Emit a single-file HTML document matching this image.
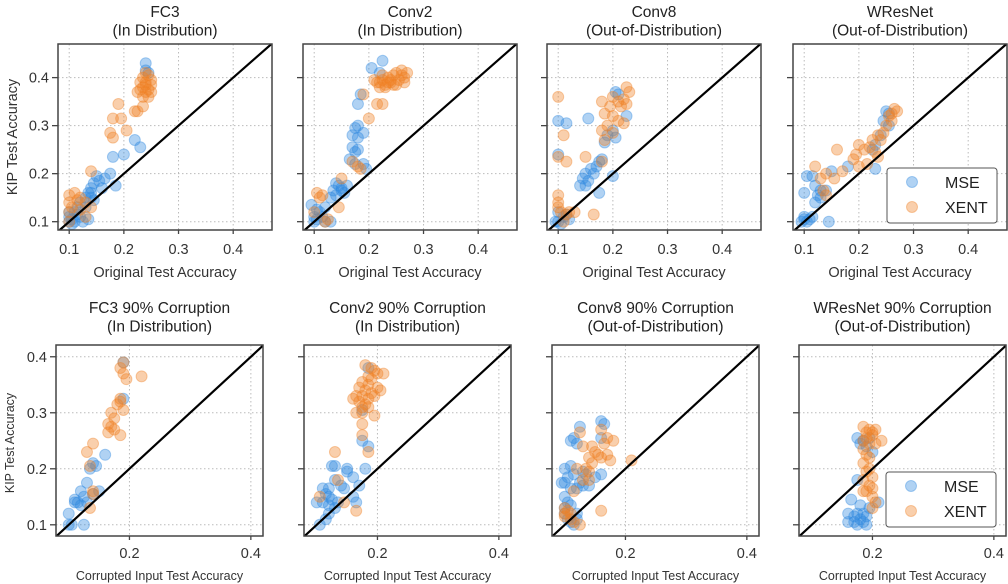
<!DOCTYPE html>
<html><head><meta charset="utf-8">
<style>
html,body{margin:0;padding:0;background:#fff;}
svg{display:block;font-family:"Liberation Sans",sans-serif;}
</style></head>
<body>
<svg id="fig" width="1008" height="584" viewBox="0 0 1008 584" xmlns="http://www.w3.org/2000/svg"></svg>
<script>
const fc3Mse=[[0.24,0.43],[0.245,0.41],[0.24,0.415],[0.22,0.27],[0.23,0.255],[0.2,0.24],[0.18,0.235],[0.175,0.2],[0.165,0.19],[0.15,0.195],[0.155,0.185],[0.185,0.175],[0.14,0.17],[0.135,0.16],[0.13,0.15],[0.14,0.15],[0.145,0.145],[0.12,0.14],[0.11,0.12],[0.1,0.1],[0.105,0.105],[0.11,0.1],[0.12,0.11],[0.135,0.105],[0.125,0.1],[0.1,0.11],[0.115,0.115],[0.13,0.13],[0.14,0.16],[0.145,0.18],[0.16,0.17],[0.105,0.095],[0.1,0.12],[0.115,0.13]];
const fc3Xent=[[0.235,0.4],[0.24,0.41],[0.245,0.405],[0.23,0.39],[0.24,0.39],[0.25,0.385],[0.235,0.38],[0.245,0.375],[0.23,0.375],[0.24,0.37],[0.25,0.37],[0.225,0.37],[0.235,0.36],[0.245,0.36],[0.24,0.385],[0.25,0.395],[0.22,0.33],[0.225,0.33],[0.235,0.34],[0.19,0.345],[0.18,0.315],[0.195,0.315],[0.175,0.285],[0.18,0.275],[0.205,0.29],[0.14,0.205],[0.1,0.155],[0.11,0.16],[0.12,0.15],[0.1,0.14],[0.105,0.13],[0.115,0.145],[0.13,0.14],[0.14,0.13],[0.1,0.12],[0.1,0.1],[0.13,0.11],[0.12,0.125]];
const conv2Mse=[[0.225,0.435],[0.205,0.42],[0.22,0.41],[0.18,0.345],[0.185,0.365],[0.175,0.295],[0.18,0.3],[0.17,0.28],[0.18,0.275],[0.19,0.285],[0.17,0.255],[0.175,0.245],[0.18,0.25],[0.165,0.23],[0.175,0.22],[0.19,0.22],[0.195,0.21],[0.14,0.18],[0.15,0.17],[0.145,0.175],[0.135,0.165],[0.155,0.16],[0.14,0.155],[0.13,0.15],[0.12,0.13],[0.11,0.12],[0.1,0.11],[0.1,0.1],[0.095,0.135],[0.105,0.105],[0.12,0.1],[0.13,0.1],[0.115,0.11],[0.105,0.125],[0.16,0.175],[0.15,0.165]];
const conv2Xent=[[0.22,0.39],[0.225,0.395],[0.23,0.385],[0.235,0.4],[0.215,0.39],[0.24,0.39],[0.23,0.38],[0.22,0.38],[0.245,0.405],[0.25,0.41],[0.26,0.415],[0.265,0.4],[0.255,0.395],[0.265,0.39],[0.27,0.41],[0.25,0.385],[0.24,0.395],[0.225,0.405],[0.21,0.395],[0.235,0.39],[0.245,0.385],[0.26,0.405],[0.215,0.345],[0.225,0.345],[0.19,0.365],[0.2,0.315],[0.17,0.225],[0.18,0.215],[0.185,0.21],[0.15,0.19],[0.105,0.16],[0.11,0.15],[0.115,0.155],[0.145,0.13],[0.1,0.12],[0.125,0.105],[0.12,0.1]];
const conv8Mse=[[0.205,0.37],[0.21,0.365],[0.225,0.32],[0.1,0.31],[0.115,0.305],[0.155,0.315],[0.19,0.28],[0.2,0.29],[0.205,0.275],[0.185,0.265],[0.1,0.24],[0.18,0.23],[0.175,0.225],[0.17,0.215],[0.16,0.21],[0.15,0.2],[0.145,0.19],[0.165,0.2],[0.155,0.185],[0.14,0.175],[0.15,0.175],[0.2,0.195],[0.175,0.16],[0.1,0.12],[0.11,0.11],[0.1,0.1],[0.105,0.095],[0.12,0.105],[0.115,0.115],[0.095,0.1]];
const conv8Xent=[[0.1,0.36],[0.225,0.38],[0.23,0.37],[0.2,0.36],[0.21,0.35],[0.22,0.355],[0.18,0.35],[0.195,0.34],[0.215,0.34],[0.225,0.345],[0.185,0.325],[0.2,0.32],[0.19,0.3],[0.21,0.31],[0.22,0.305],[0.18,0.29],[0.2,0.285],[0.185,0.27],[0.11,0.28],[0.1,0.235],[0.115,0.225],[0.15,0.235],[0.18,0.225],[0.1,0.155],[0.1,0.14],[0.1,0.13],[0.105,0.12],[0.115,0.115],[0.12,0.12],[0.11,0.1],[0.165,0.115],[0.13,0.12]];
const wresMse=[[0.25,0.33],[0.255,0.325],[0.245,0.31],[0.255,0.3],[0.24,0.28],[0.23,0.26],[0.225,0.25],[0.23,0.21],[0.18,0.215],[0.15,0.205],[0.105,0.195],[0.115,0.195],[0.12,0.175],[0.13,0.165],[0.14,0.165],[0.1,0.16],[0.125,0.155],[0.12,0.14],[0.13,0.15],[0.1,0.11],[0.105,0.1],[0.11,0.105],[0.095,0.1],[0.1,0.105],[0.145,0.1],[0.115,0.11]];
const wresXent=[[0.265,0.335],[0.26,0.325],[0.27,0.33],[0.255,0.32],[0.26,0.31],[0.25,0.3],[0.245,0.285],[0.235,0.28],[0.24,0.27],[0.225,0.27],[0.22,0.255],[0.2,0.26],[0.21,0.25],[0.195,0.24],[0.16,0.25],[0.23,0.245],[0.215,0.22],[0.235,0.235],[0.19,0.23],[0.2,0.215],[0.17,0.205],[0.14,0.2],[0.12,0.215],[0.155,0.19],[0.13,0.19],[0.135,0.165],[0.14,0.155]];
const fc3cMse=[[0.19,0.39],[0.19,0.325],[0.16,0.225],[0.14,0.21],[0.145,0.205],[0.135,0.2],[0.13,0.175],[0.12,0.16],[0.125,0.15],[0.13,0.14],[0.15,0.16],[0.11,0.14],[0.115,0.14],[0.12,0.135],[0.1,0.12],[0.1,0.1],[0.105,0.1],[0.125,0.1],[0.14,0.155],[0.11,0.145]];
const fc3cXent=[[0.19,0.39],[0.185,0.38],[0.19,0.37],[0.195,0.36],[0.22,0.365],[0.185,0.325],[0.18,0.315],[0.19,0.305],[0.185,0.32],[0.17,0.3],[0.175,0.29],[0.165,0.28],[0.17,0.275],[0.175,0.27],[0.165,0.265],[0.185,0.26],[0.14,0.245],[0.13,0.23],[0.135,0.205],[0.14,0.16],[0.14,0.155],[0.135,0.13]];
const conv2cMse=[[0.185,0.38],[0.175,0.305],[0.175,0.25],[0.185,0.24],[0.18,0.2],[0.15,0.2],[0.15,0.195],[0.125,0.205],[0.13,0.205],[0.16,0.185],[0.17,0.17],[0.13,0.18],[0.12,0.165],[0.11,0.165],[0.115,0.155],[0.12,0.15],[0.11,0.14],[0.1,0.14],[0.125,0.145],[0.135,0.14],[0.16,0.15],[0.165,0.14],[0.13,0.13],[0.12,0.12],[0.115,0.11],[0.105,0.1],[0.12,0.135],[0.14,0.17],[0.145,0.165]];
const conv2cXent=[[0.18,0.385],[0.19,0.38],[0.195,0.375],[0.2,0.37],[0.185,0.365],[0.19,0.36],[0.175,0.355],[0.185,0.35],[0.2,0.345],[0.17,0.345],[0.18,0.34],[0.19,0.335],[0.175,0.33],[0.165,0.33],[0.185,0.325],[0.195,0.33],[0.17,0.32],[0.18,0.315],[0.16,0.325],[0.175,0.31],[0.185,0.31],[0.165,0.3],[0.175,0.3],[0.205,0.34],[0.21,0.37],[0.195,0.295],[0.175,0.28],[0.175,0.26],[0.185,0.23],[0.13,0.23],[0.135,0.18],[0.105,0.15],[0.145,0.14],[0.165,0.125]];
const conv8cMse=[[0.16,0.285],[0.165,0.28],[0.125,0.275],[0.16,0.255],[0.11,0.25],[0.115,0.255],[0.12,0.245],[0.1,0.2],[0.11,0.205],[0.115,0.19],[0.105,0.185],[0.13,0.195],[0.135,0.19],[0.16,0.19],[0.15,0.185],[0.095,0.175],[0.1,0.175],[0.11,0.165],[0.125,0.175],[0.13,0.17],[0.12,0.165],[0.14,0.17],[0.1,0.15],[0.105,0.14],[0.11,0.135],[0.1,0.13],[0.1,0.12],[0.105,0.11],[0.11,0.105],[0.12,0.11],[0.115,0.1],[0.12,0.12]];
const conv8cXent=[[0.16,0.27],[0.125,0.265],[0.17,0.255],[0.165,0.245],[0.18,0.25],[0.13,0.24],[0.145,0.24],[0.15,0.23],[0.155,0.225],[0.16,0.22],[0.17,0.225],[0.175,0.215],[0.14,0.22],[0.145,0.21],[0.21,0.215],[0.135,0.2],[0.14,0.195],[0.14,0.18],[0.13,0.18],[0.12,0.2],[0.115,0.16],[0.1,0.13],[0.105,0.125],[0.11,0.12],[0.1,0.115],[0.11,0.11],[0.115,0.105],[0.125,0.1],[0.16,0.125],[0.1,0.12]];
const wrescMse=[[0.175,0.255],[0.18,0.245],[0.185,0.25],[0.19,0.24],[0.195,0.255],[0.2,0.23],[0.175,0.18],[0.165,0.145],[0.18,0.135],[0.195,0.13],[0.21,0.14],[0.16,0.12],[0.17,0.115],[0.175,0.12],[0.18,0.11],[0.185,0.12],[0.19,0.115],[0.16,0.105],[0.17,0.105],[0.185,0.105],[0.19,0.1],[0.175,0.1]];
const wrescXent=[[0.185,0.275],[0.19,0.265],[0.195,0.27],[0.2,0.265],[0.205,0.27],[0.19,0.255],[0.2,0.26],[0.185,0.25],[0.195,0.245],[0.205,0.245],[0.215,0.25],[0.185,0.235],[0.19,0.225],[0.195,0.22],[0.185,0.21],[0.195,0.2],[0.19,0.195],[0.2,0.185],[0.185,0.18],[0.195,0.17],[0.2,0.165],[0.19,0.16],[0.2,0.15],[0.185,0.16],[0.205,0.14],[0.2,0.13]];
const topTicks=[0.1,0.2,0.3,0.4];
const botXTicks=[0.2,0.4];
const botYTicks=[0.1,0.2,0.3,0.4];
const titles1=["FC3","Conv2","Conv8","WResNet"];
const titles2=["(In Distribution)","(In Distribution)","(Out-of-Distribution)","(Out-of-Distribution)"];
const titlesBot1=["FC3 90% Corruption","Conv2 90% Corruption","Conv8 90% Corruption","WResNet 90% Corruption"];

const NS="http://www.w3.org/2000/svg";
const svg=document.getElementById('fig');
function mk(tag,attrs,parent){const e=document.createElementNS(NS,tag);for(const k in attrs)e.setAttribute(k,attrs[k]);(parent||svg).appendChild(e);return e;}
const BLUE="#2f8ae0",ORANGE="#f08226";
const OP=0.38;

function panel(p){
  const g=mk('g',{});
  
  
  const sx=v=>p.x+(v-p.xmin)/(p.xmax-p.xmin)*p.w;
  const sy=v=>p.y+p.h-(v-p.ymin)/(p.ymax-p.ymin)*p.h;
  p.xt.forEach(t=>{const l=mk('line',{x1:sx(t),x2:sx(t),y1:p.y,y2:p.y+p.h,stroke:'#bbb','stroke-width':1,'stroke-dasharray':'1.5,2.5'},g);
    const tk=mk('line',{x1:sx(t),x2:sx(t),y1:p.y+p.h,y2:p.y+p.h+4,stroke:'#444','stroke-width':1.3},g);
    const tx=mk('text',{x:sx(t),y:p.xtY,'text-anchor':'middle','font-size':p.tfs,fill:'#333'},g);tx.textContent=t.toFixed(1);});
  p.yt.forEach(t=>{const l=mk('line',{x1:p.x,x2:p.x+p.w,y1:sy(t),y2:sy(t),stroke:'#bbb','stroke-width':1,'stroke-dasharray':'1.5,2.5'},g);
    const tk=mk('line',{x1:p.x-6,x2:p.x,y1:sy(t),y2:sy(t),stroke:'#444','stroke-width':1.3},g);
    if(p.ylabels){const tx=mk('text',{x:p.x-9,y:sy(t)+5,'text-anchor':'end','font-size':p.tfs,fill:'#333'},g);tx.textContent=t.toFixed(1);}});
  const cp='cp'+p.name;
  const cpe=mk('clipPath',{id:cp},g);mk('rect',{x:p.x,y:p.y,width:p.w,height:p.h},cpe);
  const pg=mk('g',{'clip-path':'url(#'+cp+')'},g);
  p.mse.forEach(d=>{const c=mk('circle',{cx:sx(d[0]),cy:sy(d[1]),r:5.5,fill:BLUE,'fill-opacity':OP,stroke:BLUE,'stroke-opacity':OP},pg);});
  p.xent.forEach(d=>{const c=mk('circle',{cx:sx(d[0]),cy:sy(d[1]),r:5.5,fill:ORANGE,'fill-opacity':OP,stroke:ORANGE,'stroke-opacity':OP},pg);});
  const lo=Math.max(p.xmin,p.ymin),hi=Math.min(p.xmax,p.ymax);
  const dl=mk('line',{x1:sx(lo),y1:sy(lo),x2:sx(hi),y2:sy(hi),stroke:'#000','stroke-width':2.2},pg);
  
  const fr=mk('rect',{x:p.x,y:p.y,width:p.w,height:p.h,fill:'none',stroke:'#444','stroke-width':1.5},g);
  
  const cx=p.x+p.w/2;
  const t1=mk('text',{x:cx,y:p.t1y,'text-anchor':'middle','font-size':15.5,fill:'#222'},g);t1.textContent=p.t1;
  const t2=mk('text',{x:cx,y:p.t1y+18.5,'text-anchor':'middle','font-size':15.5,fill:'#222'},g);t2.textContent=p.t2;
  const xl=mk('text',{x:cx,y:p.xlY,'text-anchor':'middle','font-size':p.lfs,fill:'#333'},g);xl.textContent=p.xlabel;
  if(p.legend){
    const L=p.legend;
    const lr=mk('rect',{x:L.x,y:L.y,width:110,height:55,rx:3,fill:'#fff',stroke:'#555','stroke-width':1},g);
    [[BLUE,'MSE',14],[ORANGE,'XENT',39]].forEach(e=>{
      const c=mk('circle',{cx:L.x+25,cy:L.y+e[2],r:5.5,fill:e[0],'fill-opacity':OP,stroke:e[0],'stroke-opacity':OP},g);
      const t=mk('text',{x:L.x+58,y:L.y+e[2]+6,'font-size':16,fill:'#222'},g);t.textContent=e[1];
    });
  }
}
const topData=[[fc3Mse,fc3Xent],[conv2Mse,conv2Xent],[conv8Mse,conv8Xent],[wresMse,wresXent]];
const botData=[[fc3cMse,fc3cXent],[conv2cMse,conv2cXent],[conv8cMse,conv8cXent],[wrescMse,wrescXent]];
const topX=[58,303,547,793];
const botX=[56,304,552,799];
for(let i=0;i<4;i++){
  panel({name:'top-panel-'+(i+1),x:topX[i],y:44,w:214,h:186,xmin:0.0795,xmax:0.471,ymin:0.0827,ymax:0.47,
    xt:topTicks,yt:topTicks,ylabels:i===0,tfs:14.5,lfs:14.5,xtY:254,xlY:277,t1:titles1[i],t2:titles2[i],t1y:17,
    xlabel:'Original Test Accuracy',mse:topData[i][0],xent:topData[i][1],legend:i===3?{x:887,y:168}:null});
  panel({name:'bottom-panel-'+(i+1),x:botX[i],y:345,w:207,h:191,xmin:0.079,xmax:0.42,ymin:0.08,ymax:0.421,
    xt:botXTicks,yt:botYTicks,ylabels:i===0,tfs:14.5,lfs:12.5,xtY:558,xlY:580,t1:titlesBot1[i],t2:titles2[i],t1y:313,
    xlabel:'Corrupted Input Test Accuracy',mse:botData[i][0],xent:botData[i][1],legend:i===3?{x:886,y:472}:null});
}
const yl1=mk('text',{x:0,y:0,'text-anchor':'middle','font-size':14.5,fill:'#333',transform:'translate(17,137) rotate(-90)'});
yl1.textContent='KIP Test Accuracy';


const yl2=mk('text',{x:0,y:0,'text-anchor':'middle','font-size':12.5,fill:'#333',transform:'translate(14,443) rotate(-90)'});
yl2.textContent='KIP Test Accuracy';


</script>
</body></html>
